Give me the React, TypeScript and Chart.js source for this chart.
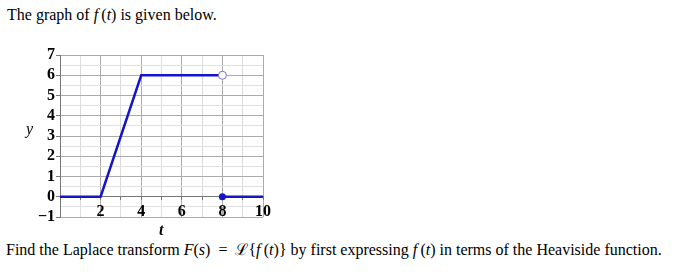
import React, { useEffect, useRef } from "react";
import { Chart, registerables } from "chart.js";

Chart.register(...registerables);

// Piecewise function f(t)
const rampT = [0, 2, 4, 8];
const rampY = [0, 0, 6, 6];
const tailT = [8, 10];
const tailY = [0, 0];
const openPointT = [8];
const openPointY = [6];

const xLabelValues = [2, 4, 6, 8, 10];
const yMin = -1;
const yMax = 7;
const xMin = 0;
const xMax = 10;

const LINE = "#1414c8";
const SERIF = "'Liberation Serif', 'Times New Roman', serif";

export default function App() {
  const ref = useRef<HTMLCanvasElement | null>(null);

  useEffect(() => {
    if (!ref.current) return;
    const chart = new Chart(ref.current, {
      type: "line",
      data: {
        datasets: [
          {
            data: openPointT.map((t, i) => ({ x: t, y: openPointY[i] })),
            showLine: false,
            pointRadius: 4,
            pointBorderWidth: 1,
            pointBorderColor: "#7070e0",
            pointBackgroundColor: "#ffffff",
          },
          {
            data: tailT.map((t, i) => ({ x: t, y: tailY[i] })),
            borderColor: LINE,
            borderWidth: 2.5,
            pointRadius: [3.5, 0],
            pointBackgroundColor: LINE,
            pointBorderColor: LINE,
            pointBorderWidth: 0,
          },
          {
            data: rampT.map((t, i) => ({ x: t, y: rampY[i] })),
            borderColor: LINE,
            borderWidth: 2.5,
            pointRadius: 0,
          },
        ],
      },
      options: {
        animation: false,
        responsive: false,
        events: [],
        layout: { padding: { left: 20, top: 15, right: 37, bottom: 23 } },
        plugins: { legend: { display: false }, tooltip: { enabled: false } },
        scales: {
          x: {
            type: "linear",
            min: xMin,
            max: xMax,
            position: { y: 0 },
            border: { color: "#777777", width: 1 },
            grid: {
              color: (ctx: any) =>
                ctx.tick && ctx.tick.value % 2 === 0 ? "#ababab" : "#dcdcdc",
              tickLength: 3,
              tickColor: "#777777",
            },
            ticks: {
              stepSize: 1,
              autoSkip: false,
              maxRotation: 0,
              padding: 3,
              color: "#000000",
              font: { family: SERIF, size: 16, weight: "bold" },
              callback: (v: any) =>
                xLabelValues.includes(Number(v)) ? String(v) : "",
            },
          },
          y: {
            type: "linear",
            min: yMin,
            max: yMax,
            position: "left",
            afterFit: (scale: any) => {
              scale.width = 40;
            },
            border: { color: "#777777", width: 1 },
            grid: {
              color: (ctx: any) =>
                ctx.tick && Number.isInteger(ctx.tick.value)
                  ? "#ababab"
                  : "#e0e0e0",
              tickColor: (ctx: any) =>
                ctx.tick && Number.isInteger(ctx.tick.value)
                  ? "#777777"
                  : "rgba(0,0,0,0)",
              tickLength: 4,
            },
            ticks: {
              stepSize: 0.5,
              autoSkip: false,
              padding: 1,
              color: "#000000",
              font: { family: SERIF, size: 16, weight: "bold" },
              callback: (v: any) => {
                const n = Number(v);
                if (!Number.isInteger(n)) return "";
                return n < 0 ? "\u2212" + Math.abs(n) : String(n);
              },
            },
          },
        },
      },
    } as any);
    return () => chart.destroy();
  }, []);

  const textStyle: React.CSSProperties = {
    position: "absolute",
    fontFamily: SERIF,
    fontSize: 16,
    lineHeight: "18px",
    color: "#000",
    whiteSpace: "nowrap",
  };

  return (
    <div style={{ position: "absolute", left: 0, top: 0, width: 685, height: 276, background: "#fff" }}>
      <div style={{ ...textStyle, left: 7, top: 6 }}>
        The graph of <i>f</i>&thinsp;(<i>t</i>) is given below.
      </div>
      <canvas
        ref={ref}
        width={300}
        height={200}
        style={{ position: "absolute", left: 0, top: 40, width: 300, height: 200 }}
      />
      <div style={{ ...textStyle, left: 26, top: 120, fontStyle: "italic" }}>y</div>
      <div style={{ ...textStyle, left: 159, top: 221, fontStyle: "italic", fontWeight: "bold" }}>t</div>
      <div style={{ ...textStyle, left: 6, top: 241 }}>
        Find the Laplace transform <i>F</i>(<i>s</i>)&nbsp;&nbsp;=&nbsp;&nbsp;ℒ{"{"}<i>f</i>&thinsp;(<i>t</i>){"}"} by first expressing <i>f</i>&thinsp;(<i>t</i>) in terms of the Heaviside function.
      </div>
    </div>
  );
}
